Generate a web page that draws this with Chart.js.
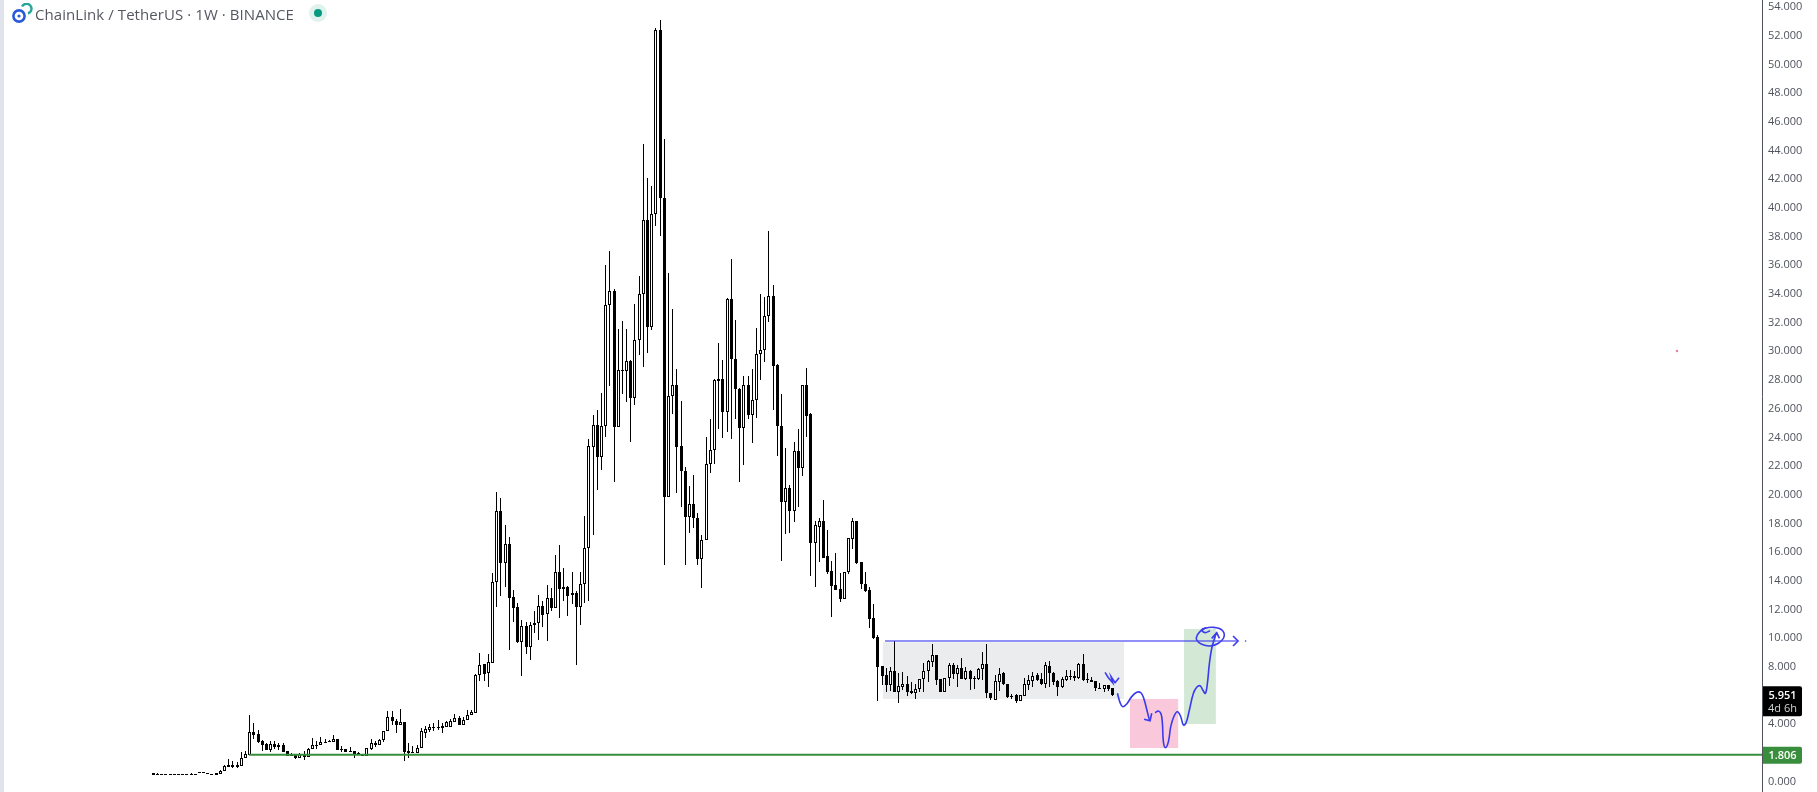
<!DOCTYPE html>
<html>
<head>
<meta charset="utf-8">
<title>ChainLink / TetherUS</title>
<script src="https://cdn.jsdelivr.net/npm/chart.js@4"></script>
<style>
  html, body { margin: 0; padding: 0; background: #fff; overflow: hidden; }
  #wrap { position: relative; width: 1817px; height: 792px; }
  #stripe { position: absolute; left: 0; top: 0; width: 4px; height: 792px; background: #e0e3eb; }
  #head { position: absolute; left: 35px; top: 4px; font: 15px/20px "Open Sans", sans-serif; letter-spacing: 0.07px; color: #555861; white-space: pre; }
  #logo { position: absolute; left: 12px; top: 3px; }
  #status { position: absolute; left: 309px; top: 4px; }
  canvas { display: block; }
</style>
</head>
<body>
<div id="wrap">
  <canvas id="linkChart" width="1817" height="792"></canvas>
  <div id="stripe"></div>
  <svg id="logo" width="22" height="22" viewBox="0 0 22 22">
    <path d="M10 3.5a5 5 0 1 1 6 7" fill="none" stroke="#26a69a" stroke-width="2.4"/>
    <circle cx="7" cy="13" r="5.6" fill="#fff" stroke="#2a5ada" stroke-width="2.6"/>
    <circle cx="7" cy="13" r="1.6" fill="#2a5ada"/>
  </svg>
  <div id="head">ChainLink / TetherUS · 1W · BINANCE</div>
  <svg id="status" width="18" height="18" viewBox="0 0 18 18">
    <circle cx="9" cy="9" r="9" fill="#dff2ee"/>
    <circle cx="9" cy="9" r="4" fill="#089981"/>
  </svg>
</div>
<script>
// weekly candles
const opens = [
  .51,.49,.44,.44,.44,.44,.47,.49,.49,.47,
  .49,.58,.58,.51,.47,.51,.49,.65,1.07,1.07,
  1.07,1.05,1.61,1.79,3.40,3.26,2.77,2.56,2.14,2.56,
  2.51,2.47,2.05,1.84,1.81,1.61,1.84,1.68,2.19,2.44,
  2.47,2.72,2.77,2.72,2.91,2.23,2.19,2.07,2.05,1.91,
  1.88,1.75,2.23,2.63,2.51,2.81,3.49,4.42,4.19,3.86,
  4.07,2.05,2.00,1.95,2.26,3.35,3.53,3.70,3.70,3.81,
  3.77,3.77,4.12,4.37,3.91,4.21,4.56,4.74,7.35,8.11,
  7.48,8.23,13.83,18.78,15.15,16.48,12.78,12.08,9.69,10.76,
  9.34,10.83,10.97,12.16,11.60,12.71,12.06,14.52,13.50,13.48,
  12.92,13.06,12.13,13.69,16.20,23.24,24.77,22.54,24.70,33.14,
  34.11,24.68,28.61,28.54,29.23,26.65,30.75,33.90,39.09,31.65,
  39.48,52.33,40.64,19.80,26.82,27.56,23.33,21.61,18.41,19.26,
  18.34,15.48,16.75,22.08,23.03,27.98,27.98,25.73,33.58,29.42,
  27.33,24.56,27.56,25.52,26.52,29.72,30.00,32.37,33.79,29.00,
  24.75,19.46,20.38,18.82,22.98,21.82,27.56,25.56,16.59,17.71,
  18.10,15.64,14.62,13.65,13.37,12.69,14.53,16.83,18.10,15.25,
  13.69,13.30,11.34,10.02,8.00,7.37,6.67,7.65,6.21,6.56,
  6.72,6.23,6.12,6.37,7.07,7.65,8.30,8.76,7.09,6.21,
  7.16,8.07,7.44,7.86,7.11,7.65,7.16,7.07,7.76,8.14,
  6.09,5.63,6.90,7.48,6.74,5.93,5.95,5.58,5.91,6.69,
  6.97,7.37,7.07,6.74,8.00,7.53,6.95,6.56,7.02,7.32,
  7.30,7.14,8.14,7.07,7.02,6.95,6.49,6.42,6.65,6.49
];
const highs = [
  .51,.56,.44,.44,.44,.44,.47,.49,.49,.54,
  .49,.58,.58,.51,.47,.51,.75,1.09,1.51,1.37,
  1.30,2.00,2.07,4.58,4.02,3.53,2.84,2.60,2.77,2.74,
  2.65,2.60,2.09,1.93,1.86,1.93,2.07,2.26,2.98,2.74,
  3.07,2.93,2.81,3.16,2.91,2.40,2.19,2.35,2.05,2.00,
  1.88,2.30,2.88,2.77,2.93,3.49,4.84,4.84,4.32,5.00,
  4.07,2.60,2.44,2.47,3.70,3.81,3.95,4.02,4.23,4.05,
  4.16,4.30,4.65,4.49,4.46,4.93,4.95,7.44,8.90,8.11,
  8.81,14.48,20.10,19.68,17.80,16.96,13.27,12.36,11.20,11.04,
  11.04,11.83,12.92,12.53,13.62,13.43,15.71,16.43,14.83,13.55,
  14.52,13.25,14.55,18.45,23.82,25.47,25.81,27.03,35.96,36.90,
  34.25,31.47,32.02,31.47,29.30,33.23,35.18,44.36,41.99,41.46,
  52.45,53.03,44.71,35.37,32.88,28.68,26.47,21.89,20.54,21.31,
  18.64,17.10,23.96,25.21,27.98,30.51,29.33,33.65,36.37,32.12,
  27.40,28.21,28.21,28.68,31.56,33.93,33.74,38.32,34.55,29.05,
  26.96,23.17,20.61,23.61,24.50,27.56,28.75,25.61,18.13,18.29,
  19.57,17.48,15.32,15.87,14.46,14.53,16.90,18.29,18.10,15.25,
  14.55,13.48,12.32,10.13,8.00,7.86,7.95,9.71,7.53,7.55,
  7.30,6.86,6.74,7.09,8.18,8.41,9.53,8.76,7.09,7.16,
  8.18,8.18,8.03,8.55,7.93,7.72,7.32,7.86,8.99,9.53,
  6.09,7.37,7.83,7.60,6.74,6.04,6.04,5.95,7.14,7.37,
  7.55,7.53,7.48,8.30,8.37,7.60,7.02,7.21,7.72,7.72,
  7.67,8.23,8.83,7.48,7.25,6.95,6.79,6.65,6.65,6.49
];
const lows = [
  .42,.47,.38,.38,.42,.38,.40,.42,.42,.44,
  .44,.51,.51,.49,.44,.42,.49,.65,.95,.91,
  .91,1.05,1.61,1.79,2.91,2.65,2.07,2.14,2.00,2.19,
  2.16,2.00,1.75,1.75,1.54,1.56,1.44,1.68,2.19,2.23,
  2.47,2.60,2.67,2.72,2.16,2.02,2.02,2.00,1.58,1.79,
  1.75,1.75,2.16,2.37,2.51,2.70,3.49,3.88,3.35,3.86,
  1.40,1.58,1.95,1.95,2.26,3.00,3.42,3.46,3.53,3.35,
  3.77,3.77,4.12,3.91,3.91,4.21,4.56,4.74,6.93,6.95,
  6.53,8.18,12.13,12.87,13.52,9.11,11.08,9.58,7.32,8.83,
  8.41,10.32,9.81,10.74,9.74,11.85,12.06,11.37,12.55,11.50,
  12.34,8.07,10.85,12.41,12.55,17.12,20.27,21.66,23.98,27.52,
  20.85,24.63,26.96,26.43,23.63,26.19,29.68,28.84,29.84,31.42,
  38.67,38.00,15.03,19.75,25.56,20.08,19.10,15.03,17.29,17.64,
  15.03,13.45,16.75,21.45,22.08,24.52,23.91,24.33,23.84,25.21,
  20.85,22.03,25.21,23.56,25.31,27.93,29.21,31.95,25.84,22.66,
  15.34,17.17,17.29,18.06,19.10,21.24,23.98,14.27,13.53,15.27,
  15.55,14.41,11.44,13.30,12.48,12.64,14.41,16.18,15.08,13.37,
  13.18,10.67,9.90,5.58,6.67,6.21,6.28,6.21,5.39,6.32,
  5.93,6.05,5.72,6.16,6.16,6.91,7.95,6.67,6.21,6.21,
  6.60,7.09,6.56,7.11,7.02,6.32,6.37,7.02,7.02,5.74,
  5.63,5.63,6.28,6.67,5.79,5.67,5.44,5.58,5.91,6.32,
  6.56,6.97,6.67,6.44,6.56,6.67,5.93,6.44,6.97,7.02,
  6.97,7.07,6.95,6.79,6.86,6.28,6.42,6.21,6.25,5.91
];
const closes = [
  .42,.47,.38,.38,.42,.38,.40,.42,.42,.44,
  .44,.51,.51,.49,.44,.42,.65,1.00,.98,.98,
  .95,1.61,1.84,3.37,3.21,2.70,2.51,2.14,2.54,2.33,
  2.33,2.00,1.75,1.75,1.58,1.84,1.65,2.19,2.47,2.49,
  2.67,2.67,2.67,2.88,2.16,2.16,2.02,2.02,1.86,1.86,
  1.75,2.26,2.60,2.51,2.84,3.49,4.42,4.19,3.86,4.07,
  2.02,1.95,1.95,2.26,3.44,3.58,3.72,3.72,3.72,3.70,
  4.07,4.16,4.35,3.91,4.21,4.56,4.77,7.37,8.04,7.46,
  8.25,13.83,18.78,15.15,16.48,12.76,12.06,9.69,10.76,9.34,
  10.83,10.97,12.16,11.57,12.71,12.06,14.52,13.39,13.39,12.90,
  13.06,12.13,13.69,16.20,23.31,24.77,22.54,24.70,33.14,34.11,
  24.68,28.61,28.54,29.23,26.65,30.75,33.90,39.09,31.65,39.48,
  52.33,40.64,19.80,26.82,27.56,23.29,21.61,18.41,19.26,18.34,
  15.48,16.75,22.08,23.03,27.96,27.89,25.73,33.58,29.42,27.33,
  24.61,27.56,25.52,26.52,29.72,30.00,32.37,33.79,28.93,24.75,
  19.46,20.38,18.82,22.98,21.82,27.56,25.44,16.59,17.80,18.10,
  15.55,14.55,13.60,13.30,12.69,14.53,16.90,18.10,15.15,13.74,
  13.23,11.27,9.95,7.95,7.32,6.67,7.65,6.21,6.58,6.72,
  6.21,6.12,6.39,7.09,7.65,8.34,8.76,7.04,6.21,7.16,
  8.07,7.44,7.86,7.11,7.65,7.11,7.11,7.79,8.14,6.09,
  5.74,6.93,7.41,6.72,5.86,5.88,5.56,5.95,6.72,7.02,
  7.32,7.02,6.74,8.07,7.48,6.90,6.56,7.07,7.30,7.27,
  7.14,8.14,7.02,7.00,6.90,6.49,6.42,6.65,6.42,5.951
];

const priceTicks = [0,4,8,10,12,14,16,18,20,22,24,26,28,30,32,34,36,38,40,42,44,46,48,50,52,54];
const lastPrice = 5.951;
const countdown = '4d 6h';
const supportPrice = 1.806;
const supportFrom = 22.9;

// drawing tools on the chart, x in weeks, y in price
const rangeBox = [174.2, 231.8, 5.70, 9.65];
const pinkBox = [233.2, 244.7, 2.28, 5.70];
const greenBox = [246.1, 253.7, 3.95, 10.58];
const rangeLine = [[174.7, 9.74], [259, 9.74]];
const rangeArrow = [[257.8, 10.09], [259, 9.74], [257.8, 9.39]];
const smallZigzag = [[227.24,7.55],[228.04,7.18],[229.07,6.83],[228.68,7.25],[229.63,6.83],[230.59,7.18]];
const pathDown = [[230.19,6.09],[230.83,5.44],[231.46,5.16],[232.42,5.35],[233.61,5.86],[234.81,6.16],[235.76,6.14],[236.40,5.81],[237.03,5.16],[237.83,4.23]];
const pathDownArrow = [[236.56,4.28],[237.99,4.18],[238.39,4.70]];
const pathUp = [[239.18,4.74],[239.98,4.86],[240.62,4.65],[240.94,4.00],[241.17,2.72],[241.65,2.30],[242.37,2.72],[242.93,3.77],[243.72,4.51],[244.52,4.81],[245.31,4.46],[245.95,3.88],[246.59,4.04],[247.38,4.93],[248.34,6.09],[249.13,6.51],[249.93,6.62],[250.57,6.32],[251.20,6.09],[251.68,6.79],[252.16,8.18],[252.72,9.23],[253.51,10.04],[253.91,10.32]];
const pathUpArrow = [[252.72,9.92],[253.91,10.32],[254.55,9.92]];
const circleMark = [[250.73,10.62],[249.29,10.16],[249.13,9.81],[250.33,9.51],[252.32,9.39],[254.31,9.58],[255.66,10.04],[255.11,10.51],[253.11,10.69],[251.12,10.62],[250.33,10.46]];
const circleArrow = [[251.36,10.67],[250.33,10.51],[251.12,10.32],[252.32,10.46]];
const strayDots = [[260.8, 9.74]];
const pinkDot = [[363.8, 29.95]];

const weeks = opens.map((o, i) => i);
const wickData = weeks.map(i => ({ x: i, y: [lows[i], highs[i]] }));
const bodyData = weeks.map(i => ({ x: i, y: [opens[i], closes[i]] }));
const isUp = i => closes[i] >= opens[i];

function pts(list) { return list.map(p => ({ x: p[0], y: p[1] })); }

function penLine(list, smooth, width, color) {
  return {
    type: 'line', data: pts(list), order: 1, borderColor: color || '#3a3aee', borderWidth: width || 1.6,
    tension: smooth ? 0.4 : 0, pointRadius: 0, fill: false
  };
}

// tradingview keeps wicks and bodies on whole pixels
const snapBars = {
  id: 'snapBars',
  afterDatasetsUpdate(chart) {
    chart.getSortedVisibleDatasetMetas().forEach(meta => {
      if (meta.type !== 'bar') return;
      meta.data.forEach(el => {
        el.x = Math.floor(el.x) + 0.5;
        el.y = Math.round(el.y);
        el.base = Math.round(el.base);
        if (el.base === el.y) el.base = el.y + 1;
        el.height = el.base - el.y;
      });
    });
  }
};

const boxes = {
  id: 'boxes',
  beforeDatasetsDraw(chart) {
    const { ctx, scales: { x, y } } = chart;
    [[rangeBox, '#ebecee'], [pinkBox, '#f9c8da'], [greenBox, '#d3e9d5']].forEach(([b, color]) => {
      const left = x.getPixelForValue(b[0]);
      const top = y.getPixelForValue(b[3]);
      ctx.fillStyle = color;
      ctx.fillRect(left, top, x.getPixelForValue(b[1]) - left, y.getPixelForValue(b[2]) - top);
    });
  }
};

function priceTag(ctx, x, top, w, h, color) {
  ctx.fillStyle = color;
  ctx.beginPath();
  ctx.roundRect(x, top, w, h, [0, 2, 2, 0]);
  ctx.fill();
}

const axisTags = {
  id: 'axisTags',
  afterDraw(chart) {
    const { ctx, scales: { y } } = chart;
    const x = y.left + 1;
    const w = 39;
    const py = y.getPixelForValue(lastPrice);
    const sy = y.getPixelForValue(supportPrice);
    ctx.save();
    priceTag(ctx, x, py - 9, w, 30, '#000');
    priceTag(ctx, x, sy - 8, w, 17, '#388e3c');
    ctx.textAlign = 'center';
    ctx.textBaseline = 'middle';
    ctx.font = '600 11px "Open Sans", sans-serif';
    ctx.fillStyle = '#fff';
    ctx.fillText(lastPrice.toFixed(3), x + w / 2, py + 1);
    ctx.fillText(supportPrice.toFixed(3), x + w / 2, sy + 1);
    ctx.font = '11px "Open Sans", sans-serif';
    ctx.fillStyle = '#d5d6da';
    ctx.fillText(countdown, x + w / 2, py + 14);
    ctx.restore();
  }
};

new Chart(document.getElementById('linkChart').getContext('2d'), {
  type: 'bar',
  data: {
    datasets: [
      {
        data: wickData, order: 3, grouped: false, barThickness: 1, inflateAmount: 0,
        backgroundColor: '#000', borderWidth: 0
      },
      {
        data: bodyData, order: 2, grouped: false, barThickness: 3, inflateAmount: 0,
        backgroundColor: weeks.map(i => isUp(i) ? '#fff' : '#000'), borderColor: '#000',
        borderWidth: 1, borderSkipped: false
      },
      penLine([[supportFrom, supportPrice], [384.1, supportPrice]], false, 2, '#388e3c'),
      penLine(rangeLine, false, 1.6, 'rgba(70,70,240,.8)'),
      penLine(rangeArrow),
      penLine(smallZigzag),
      penLine(pathDown, true),
      penLine(pathDownArrow),
      penLine(pathUp, true),
      penLine(pathUpArrow),
      penLine(circleMark, true),
      penLine(circleArrow, true),
      { type: 'scatter', data: pts(strayDots), order: 1, pointRadius: 0.8, backgroundColor: '#3434ea', borderWidth: 0 },
      { type: 'scatter', data: pts(pinkDot), order: 1, pointRadius: 1.2, backgroundColor: '#e57fa8', borderWidth: 0 }
    ]
  },
  options: {
    responsive: false,
    animation: false,
    events: [],
    layout: { autoPadding: false, padding: { left: 4, top: 0, bottom: 0, right: 0 } },
    plugins: { legend: { display: false }, tooltip: { enabled: false } },
    scales: {
      x: { type: 'linear', display: false, offset: false, min: -35.65, max: 384.1 },
      y: {
        position: 'right',
        min: -0.788,
        max: 54.42,
        afterBuildTicks: axis => { axis.ticks = priceTicks.map(v => ({ value: v })); },
        afterFit: axis => { axis.width = 55; axis.paddingTop = 0; axis.paddingBottom = 0; },
        grid: { display: false, drawTicks: false },
        border: { display: true, color: '#50535e', width: 1 },
        ticks: {
          padding: 6,
          labelOffset: 1,
          color: '#50535e',
          font: { family: '"Open Sans", sans-serif', size: 11 },
          autoSkip: false,
          callback: v => v.toFixed(3)
        }
      }
    }
  },
  plugins: [snapBars, boxes, axisTags]
});
</script>
</body>
</html>
